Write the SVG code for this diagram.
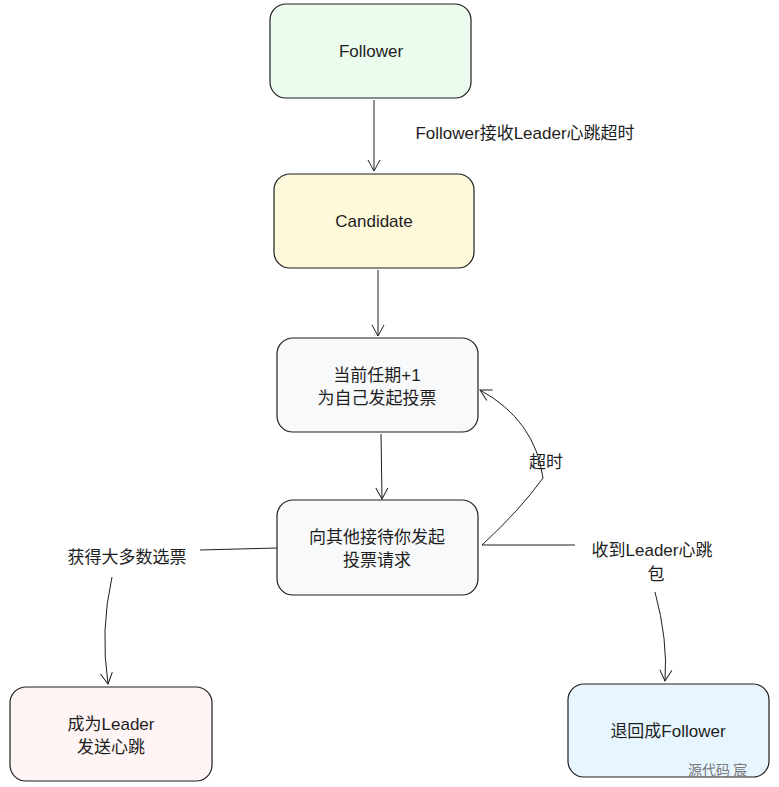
<svg xmlns="http://www.w3.org/2000/svg" width="779" height="787" viewBox="0 0 779 787">
<style>
.box{stroke:#1e1e1e;stroke-width:1.2}
.t{font-family:"Comic Sans MS","Liberation Sans","Noto Sans CJK SC",sans-serif;font-size:17px;fill:#1e1e1e;text-anchor:middle}
.c{fill:none;stroke:#1e1e1e;stroke-width:1}
</style>
<defs><marker id="a" markerWidth="14" markerHeight="14" refX="12" refY="7" orient="auto" markerUnits="userSpaceOnUse"><path d="M1,1 L12,7 L1,13" fill="none" stroke="#1e1e1e" stroke-width="1"/></marker></defs>
<rect width="779" height="787" fill="#fff"/>
<g id="follower"><rect class="box" x="270" y="4" width="201" height="94" rx="16" fill="#ebfbee"/><text class="t" x="371" y="57">Follower</text></g>
<g id="candidate"><rect class="box" x="274" y="174" width="200" height="94" rx="16" fill="#fff9db"/><text class="t" x="374" y="227">Candidate</text></g>
<g id="term"><rect class="box" x="277" y="338" width="201" height="94" rx="16" fill="#f8f9fa"/><text class="t" x="377" y="381">当前任期+1</text><text class="t" x="377" y="404">为自己发起投票</text></g>
<g id="request"><rect class="box" x="277" y="500" width="201" height="95" rx="16" fill="#f8f9fa"/><text class="t" x="377" y="543">向其他接待你发起</text><text class="t" x="377" y="566">投票请求</text></g>
<g id="leader"><rect class="box" x="10" y="687" width="202" height="94" rx="16" fill="#fff5f5"/><text class="t" x="111" y="730">成为Leader</text><text class="t" x="111" y="753">发送心跳</text></g>
<g id="back"><rect class="box" x="568" y="684" width="201" height="93" rx="16" fill="#e7f5ff"/><text class="t" x="668" y="737">退回成Follower</text></g>
<g id="connectors">
<path class="c" d="M374,100 L374,171" marker-end="url(#a)"/>
<text class="t" x="525" y="139">Follower接收Leader心跳超时</text>
<path class="c" d="M378,270 L378,336" marker-end="url(#a)"/>
<path class="c" d="M381,434 L382,499" marker-end="url(#a)"/>
<path class="c" d="M482,545 Q520,510 543,478 Q535,420 480,390" marker-end="url(#a)"/>
<text class="t" x="546" y="468">超时</text>
<path class="c" d="M277,548 L200,550"/>
<text class="t" x="127" y="563">获得大多数选票</text>
<path class="c" d="M112,577 Q100,630 108,684" marker-end="url(#a)"/>
<path class="c" d="M482,545 L575,545"/>
<text class="t" x="652" y="556">收到Leader心跳</text>
<text class="t" x="656" y="580">包</text>
<path class="c" d="M655,592 Q668,640 665,681" marker-end="url(#a)"/>
</g>
<text x="688" y="775" font-family="Noto Sans CJK SC,sans-serif" font-size="14" fill="#777">源代码  宸</text>
</svg>
